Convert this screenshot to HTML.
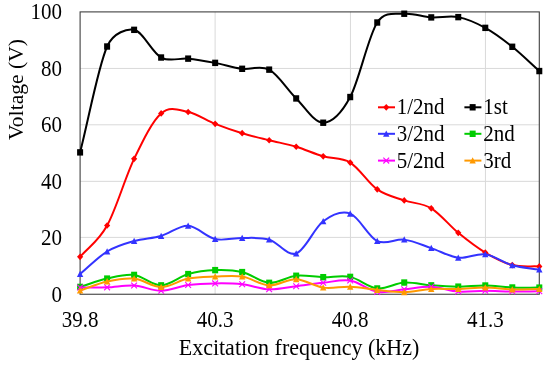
<!DOCTYPE html>
<html><head><meta charset="utf-8"><title>chart</title>
<style>html,body{margin:0;padding:0;background:#fff}svg{display:block}text{font-family:"Liberation Serif","Times New Roman",serif;fill:#000}</style></head><body>
<svg width="550" height="368" viewBox="0 0 550 368">
<rect width="550" height="368" fill="#fff"/>
<g stroke="#d9d9d9" stroke-width="1"><line x1="80.10" x2="539.30" y1="68.45" y2="68.45"/><line x1="80.10" x2="539.30" y1="124.80" y2="124.80"/><line x1="80.10" x2="539.30" y1="181.35" y2="181.35"/><line x1="80.10" x2="539.30" y1="237.40" y2="237.40"/><line x1="215.10" x2="215.10" y1="11.90" y2="294.25"/><line x1="350.45" x2="350.45" y1="11.90" y2="294.25"/><line x1="485.45" x2="485.45" y1="11.90" y2="294.25"/></g>
<rect x="80.10" y="11.90" width="459.20" height="282.35" fill="none" stroke="#404040" stroke-width="1.1"/>
<path d="M80.10 256.85 C89.10 246.40 98.11 241.84 107.11 225.51 C116.12 209.18 125.12 177.55 134.12 158.87 C143.13 140.19 152.13 121.23 161.14 113.41 C170.14 105.60 179.14 110.26 188.15 112.00 C197.15 113.74 206.15 120.33 215.16 123.86 C224.16 127.39 233.17 130.45 242.17 133.18 C251.17 135.91 260.18 137.98 269.18 140.24 C278.19 142.50 287.19 144.05 296.19 146.73 C305.20 149.41 314.20 153.70 323.21 156.33 C332.21 158.97 341.21 157.04 350.22 162.54 C359.22 168.05 368.23 183.06 377.23 189.37 C386.23 195.67 395.24 197.22 404.24 200.38 C413.25 203.53 422.25 202.87 431.25 208.28 C440.26 213.69 449.26 225.46 458.26 232.85 C467.27 240.24 476.27 247.25 485.28 252.61 C494.28 257.98 503.28 262.73 512.29 265.04 C521.29 267.34 530.30 265.98 539.30 266.45" fill="none" stroke="#ff0000" stroke-width="2.0" stroke-linejoin="round" stroke-linecap="round"/>
<g><path d="M80.10 253.50 L83.20 256.85 L80.10 260.20 L77.00 256.85Z" fill="#ff0000"/><path d="M107.11 222.16 L110.21 225.51 L107.11 228.86 L104.01 225.51Z" fill="#ff0000"/><path d="M134.12 155.52 L137.22 158.87 L134.12 162.22 L131.02 158.87Z" fill="#ff0000"/><path d="M161.14 110.06 L164.24 113.41 L161.14 116.76 L158.04 113.41Z" fill="#ff0000"/><path d="M188.15 108.65 L191.25 112.00 L188.15 115.35 L185.05 112.00Z" fill="#ff0000"/><path d="M215.16 120.51 L218.26 123.86 L215.16 127.21 L212.06 123.86Z" fill="#ff0000"/><path d="M242.17 129.83 L245.27 133.18 L242.17 136.53 L239.07 133.18Z" fill="#ff0000"/><path d="M269.18 136.89 L272.28 140.24 L269.18 143.59 L266.08 140.24Z" fill="#ff0000"/><path d="M296.19 143.38 L299.29 146.73 L296.19 150.08 L293.09 146.73Z" fill="#ff0000"/><path d="M323.21 152.98 L326.31 156.33 L323.21 159.68 L320.11 156.33Z" fill="#ff0000"/><path d="M350.22 159.19 L353.32 162.54 L350.22 165.89 L347.12 162.54Z" fill="#ff0000"/><path d="M377.23 186.02 L380.33 189.37 L377.23 192.72 L374.13 189.37Z" fill="#ff0000"/><path d="M404.24 197.03 L407.34 200.38 L404.24 203.73 L401.14 200.38Z" fill="#ff0000"/><path d="M431.25 204.93 L434.35 208.28 L431.25 211.63 L428.15 208.28Z" fill="#ff0000"/><path d="M458.26 229.50 L461.36 232.85 L458.26 236.20 L455.16 232.85Z" fill="#ff0000"/><path d="M485.28 249.26 L488.38 252.61 L485.28 255.96 L482.18 252.61Z" fill="#ff0000"/><path d="M512.29 261.69 L515.39 265.04 L512.29 268.39 L509.19 265.04Z" fill="#ff0000"/><path d="M539.30 263.10 L542.40 266.45 L539.30 269.80 L536.20 266.45Z" fill="#ff0000"/></g>
<path d="M80.10 152.38 C89.10 117.08 98.11 66.92 107.11 46.50 C113.51 31.98 127.72 28.53 134.12 29.84 C143.13 31.67 152.13 52.71 161.14 57.51 C170.14 62.31 179.14 57.74 188.15 58.64 C197.15 59.53 206.15 61.18 215.16 62.87 C224.16 64.57 233.17 67.67 242.17 68.80 C251.17 69.93 260.18 64.71 269.18 69.65 C278.19 74.59 287.19 89.60 296.19 98.45 C305.20 107.30 314.20 122.97 323.21 122.73 C332.05 122.50 341.37 113.45 350.22 97.04 C359.22 80.33 368.23 36.38 377.23 22.50 C384.95 10.59 396.52 14.47 404.24 13.74 C413.25 12.90 422.25 16.85 431.25 17.41 C440.26 17.98 449.26 15.39 458.26 17.13 C467.27 18.87 476.27 22.92 485.28 27.86 C494.28 32.80 503.28 39.58 512.29 46.78 C521.29 53.98 530.30 62.97 539.30 71.06" fill="none" stroke="#000000" stroke-width="2.0" stroke-linejoin="round" stroke-linecap="round"/>
<g><rect x="77.10" y="149.18" width="6.00" height="6.40" fill="#000000"/><rect x="104.11" y="43.30" width="6.00" height="6.40" fill="#000000"/><rect x="131.12" y="26.64" width="6.00" height="6.40" fill="#000000"/><rect x="158.14" y="54.31" width="6.00" height="6.40" fill="#000000"/><rect x="185.15" y="55.44" width="6.00" height="6.40" fill="#000000"/><rect x="212.16" y="59.67" width="6.00" height="6.40" fill="#000000"/><rect x="239.17" y="65.60" width="6.00" height="6.40" fill="#000000"/><rect x="266.18" y="66.45" width="6.00" height="6.40" fill="#000000"/><rect x="293.19" y="95.25" width="6.00" height="6.40" fill="#000000"/><rect x="320.21" y="119.53" width="6.00" height="6.40" fill="#000000"/><rect x="347.22" y="93.84" width="6.00" height="6.40" fill="#000000"/><rect x="374.23" y="19.30" width="6.00" height="6.40" fill="#000000"/><rect x="401.24" y="10.54" width="6.00" height="6.40" fill="#000000"/><rect x="428.25" y="14.21" width="6.00" height="6.40" fill="#000000"/><rect x="455.26" y="13.93" width="6.00" height="6.40" fill="#000000"/><rect x="482.28" y="24.66" width="6.00" height="6.40" fill="#000000"/><rect x="509.29" y="43.58" width="6.00" height="6.40" fill="#000000"/><rect x="536.30" y="67.86" width="6.00" height="6.40" fill="#000000"/></g>
<path d="M80.10 274.07 C89.10 266.54 98.11 256.99 107.11 251.48 C116.12 245.98 125.12 243.62 134.12 241.04 C143.13 238.45 152.13 238.49 161.14 235.95 C170.14 233.41 179.14 225.27 188.15 225.79 C197.15 226.31 206.15 237.04 215.16 239.06 C224.16 241.08 233.17 237.84 242.17 237.93 C251.17 238.02 260.18 237.04 269.18 239.62 C278.19 242.21 287.19 256.52 296.19 253.46 C305.20 250.40 314.20 227.91 323.21 221.27 C332.21 214.64 341.21 210.35 350.22 213.65 C359.22 216.94 368.23 236.71 377.23 241.04 C386.23 245.37 395.24 238.45 404.24 239.62 C413.25 240.80 422.25 245.08 431.25 248.09 C440.26 251.11 449.26 256.66 458.26 257.69 C467.27 258.73 476.27 253.04 485.28 254.31 C494.28 255.58 503.28 262.78 512.29 265.32 C521.29 267.86 530.30 268.14 539.30 269.55" fill="none" stroke="#3333ff" stroke-width="2.0" stroke-linejoin="round" stroke-linecap="round"/>
<g><path d="M80.10 270.77 L83.30 277.07 L76.90 277.07Z" fill="#3333ff"/><path d="M107.11 248.18 L110.31 254.48 L103.91 254.48Z" fill="#3333ff"/><path d="M134.12 237.74 L137.32 244.04 L130.92 244.04Z" fill="#3333ff"/><path d="M161.14 232.65 L164.34 238.95 L157.94 238.95Z" fill="#3333ff"/><path d="M188.15 222.49 L191.35 228.79 L184.95 228.79Z" fill="#3333ff"/><path d="M215.16 235.76 L218.36 242.06 L211.96 242.06Z" fill="#3333ff"/><path d="M242.17 234.63 L245.37 240.93 L238.97 240.93Z" fill="#3333ff"/><path d="M269.18 236.32 L272.38 242.62 L265.98 242.62Z" fill="#3333ff"/><path d="M296.19 250.16 L299.39 256.46 L292.99 256.46Z" fill="#3333ff"/><path d="M323.21 217.97 L326.41 224.27 L320.01 224.27Z" fill="#3333ff"/><path d="M350.22 210.35 L353.42 216.65 L347.02 216.65Z" fill="#3333ff"/><path d="M377.23 237.74 L380.43 244.04 L374.03 244.04Z" fill="#3333ff"/><path d="M404.24 236.32 L407.44 242.62 L401.04 242.62Z" fill="#3333ff"/><path d="M431.25 244.79 L434.45 251.09 L428.05 251.09Z" fill="#3333ff"/><path d="M458.26 254.39 L461.46 260.69 L455.06 260.69Z" fill="#3333ff"/><path d="M485.28 251.01 L488.48 257.31 L482.08 257.31Z" fill="#3333ff"/><path d="M512.29 262.02 L515.49 268.32 L509.09 268.32Z" fill="#3333ff"/><path d="M539.30 266.25 L542.50 272.55 L536.10 272.55Z" fill="#3333ff"/></g>
<path d="M80.10 286.92 C89.10 284.14 98.11 280.59 107.11 278.59 C116.12 276.59 125.12 273.79 134.12 274.92 C143.13 276.05 152.13 285.51 161.14 285.36 C170.14 285.22 179.14 276.61 188.15 274.07 C197.15 271.53 206.15 270.45 215.16 270.12 C224.16 269.79 233.17 269.98 242.17 272.09 C251.17 274.21 260.18 282.21 269.18 282.82 C278.19 283.44 287.19 276.71 296.19 275.76 C305.20 274.82 314.20 276.99 323.21 277.18 C332.21 277.36 341.21 275.01 350.22 276.89 C359.22 278.78 368.23 287.53 377.23 288.47 C386.23 289.41 395.24 283.06 404.24 282.54 C413.25 282.02 422.25 284.68 431.25 285.36 C440.26 286.05 449.26 286.61 458.26 286.64 C467.27 286.66 476.27 285.36 485.28 285.51 C494.28 285.65 503.28 287.13 512.29 287.48 C521.29 287.84 530.30 287.58 539.30 287.62" fill="none" stroke="#00cc00" stroke-width="2.0" stroke-linejoin="round" stroke-linecap="round"/>
<g><rect x="77.10" y="283.72" width="6.00" height="6.40" fill="#00cc00"/><rect x="104.11" y="275.39" width="6.00" height="6.40" fill="#00cc00"/><rect x="131.12" y="271.72" width="6.00" height="6.40" fill="#00cc00"/><rect x="158.14" y="282.16" width="6.00" height="6.40" fill="#00cc00"/><rect x="185.15" y="270.87" width="6.00" height="6.40" fill="#00cc00"/><rect x="212.16" y="266.92" width="6.00" height="6.40" fill="#00cc00"/><rect x="239.17" y="268.89" width="6.00" height="6.40" fill="#00cc00"/><rect x="266.18" y="279.62" width="6.00" height="6.40" fill="#00cc00"/><rect x="293.19" y="272.56" width="6.00" height="6.40" fill="#00cc00"/><rect x="320.21" y="273.98" width="6.00" height="6.40" fill="#00cc00"/><rect x="347.22" y="273.69" width="6.00" height="6.40" fill="#00cc00"/><rect x="374.23" y="285.27" width="6.00" height="6.40" fill="#00cc00"/><rect x="401.24" y="279.34" width="6.00" height="6.40" fill="#00cc00"/><rect x="428.25" y="282.16" width="6.00" height="6.40" fill="#00cc00"/><rect x="455.26" y="283.44" width="6.00" height="6.40" fill="#00cc00"/><rect x="482.28" y="282.31" width="6.00" height="6.40" fill="#00cc00"/><rect x="509.29" y="284.28" width="6.00" height="6.40" fill="#00cc00"/><rect x="536.30" y="284.42" width="6.00" height="6.40" fill="#00cc00"/></g>
<path d="M80.10 287.48 C89.10 287.44 98.11 287.67 107.11 287.34 C116.12 287.01 125.12 284.94 134.12 285.51 C143.13 286.07 152.13 290.80 161.14 290.73 C170.14 290.66 179.14 286.31 188.15 285.08 C197.15 283.86 206.15 283.53 215.16 283.39 C224.16 283.25 233.17 283.25 242.17 284.24 C251.17 285.22 260.18 288.99 269.18 289.32 C278.19 289.65 287.19 287.29 296.19 286.21 C305.20 285.13 314.20 283.76 323.21 282.82 C332.21 281.88 341.21 279.06 350.22 280.56 C359.22 282.07 368.23 290.40 377.23 291.86 C386.23 293.32 395.24 290.16 404.24 289.32 C413.25 288.47 422.25 286.40 431.25 286.78 C440.26 287.15 449.26 290.92 458.26 291.58 C467.27 292.24 476.27 290.73 485.28 290.73 C494.28 290.73 503.28 291.50 512.29 291.58 C521.29 291.66 530.30 291.33 539.30 291.21" fill="none" stroke="#ff00ff" stroke-width="2.0" stroke-linejoin="round" stroke-linecap="round"/>
<g><path d="M77.20 284.58 L83.00 290.38 M77.20 290.38 L83.00 284.58" stroke="#ff00ff" stroke-width="1.1" fill="none"/><path d="M104.21 284.44 L110.01 290.24 M104.21 290.24 L110.01 284.44" stroke="#ff00ff" stroke-width="1.1" fill="none"/><path d="M131.22 282.61 L137.02 288.41 M131.22 288.41 L137.02 282.61" stroke="#ff00ff" stroke-width="1.1" fill="none"/><path d="M158.24 287.83 L164.04 293.63 M158.24 293.63 L164.04 287.83" stroke="#ff00ff" stroke-width="1.1" fill="none"/><path d="M185.25 282.18 L191.05 287.98 M185.25 287.98 L191.05 282.18" stroke="#ff00ff" stroke-width="1.1" fill="none"/><path d="M212.26 280.49 L218.06 286.29 M212.26 286.29 L218.06 280.49" stroke="#ff00ff" stroke-width="1.1" fill="none"/><path d="M239.27 281.34 L245.07 287.14 M239.27 287.14 L245.07 281.34" stroke="#ff00ff" stroke-width="1.1" fill="none"/><path d="M266.28 286.42 L272.08 292.22 M266.28 292.22 L272.08 286.42" stroke="#ff00ff" stroke-width="1.1" fill="none"/><path d="M293.29 283.31 L299.09 289.11 M293.29 289.11 L299.09 283.31" stroke="#ff00ff" stroke-width="1.1" fill="none"/><path d="M320.31 279.92 L326.11 285.72 M320.31 285.72 L326.11 279.92" stroke="#ff00ff" stroke-width="1.1" fill="none"/><path d="M347.32 277.66 L353.12 283.46 M347.32 283.46 L353.12 277.66" stroke="#ff00ff" stroke-width="1.1" fill="none"/><path d="M374.33 288.96 L380.13 294.76 M374.33 294.76 L380.13 288.96" stroke="#ff00ff" stroke-width="1.1" fill="none"/><path d="M401.34 286.42 L407.14 292.22 M401.34 292.22 L407.14 286.42" stroke="#ff00ff" stroke-width="1.1" fill="none"/><path d="M428.35 283.88 L434.15 289.68 M428.35 289.68 L434.15 283.88" stroke="#ff00ff" stroke-width="1.1" fill="none"/><path d="M455.36 288.68 L461.16 294.48 M455.36 294.48 L461.16 288.68" stroke="#ff00ff" stroke-width="1.1" fill="none"/><path d="M482.38 287.83 L488.18 293.63 M482.38 293.63 L488.18 287.83" stroke="#ff00ff" stroke-width="1.1" fill="none"/><path d="M509.39 288.68 L515.19 294.48 M509.39 294.48 L515.19 288.68" stroke="#ff00ff" stroke-width="1.1" fill="none"/><path d="M536.40 288.31 L542.20 294.11 M536.40 294.11 L542.20 288.31" stroke="#ff00ff" stroke-width="1.1" fill="none"/></g>
<path d="M80.10 290.50 C89.10 287.47 98.11 283.40 107.11 281.41 C116.12 279.43 125.12 277.65 134.12 278.59 C143.13 279.53 152.13 287.06 161.14 287.06 C170.14 287.06 179.14 280.33 188.15 278.59 C197.15 276.85 206.15 276.94 215.16 276.61 C224.16 276.28 233.17 275.15 242.17 276.61 C251.17 278.07 260.18 284.94 269.18 285.36 C278.19 285.79 287.19 278.78 296.19 279.15 C305.20 279.53 314.20 286.35 323.21 287.62 C332.21 288.89 341.21 286.40 350.22 286.78 C359.22 287.15 368.23 288.99 377.23 289.88 C386.23 290.78 395.24 292.28 404.24 292.14 C413.25 292.00 422.25 289.55 431.25 289.04 C440.26 288.52 449.26 289.27 458.26 289.04 C467.27 288.80 476.27 287.55 485.28 287.62 C494.28 287.69 503.28 289.23 512.29 289.46 C521.29 289.69 530.30 289.16 539.30 289.01" fill="none" stroke="#ff9900" stroke-width="2.0" stroke-linejoin="round" stroke-linecap="round"/>
<g><path d="M80.10 287.20 L83.30 293.50 L76.90 293.50Z" fill="#ff9900"/><path d="M107.11 278.11 L110.31 284.41 L103.91 284.41Z" fill="#ff9900"/><path d="M134.12 275.29 L137.32 281.59 L130.92 281.59Z" fill="#ff9900"/><path d="M161.14 283.76 L164.34 290.06 L157.94 290.06Z" fill="#ff9900"/><path d="M188.15 275.29 L191.35 281.59 L184.95 281.59Z" fill="#ff9900"/><path d="M215.16 273.31 L218.36 279.61 L211.96 279.61Z" fill="#ff9900"/><path d="M242.17 273.31 L245.37 279.61 L238.97 279.61Z" fill="#ff9900"/><path d="M269.18 282.06 L272.38 288.36 L265.98 288.36Z" fill="#ff9900"/><path d="M296.19 275.85 L299.39 282.15 L292.99 282.15Z" fill="#ff9900"/><path d="M323.21 284.32 L326.41 290.62 L320.01 290.62Z" fill="#ff9900"/><path d="M350.22 283.48 L353.42 289.78 L347.02 289.78Z" fill="#ff9900"/><path d="M377.23 286.58 L380.43 292.88 L374.03 292.88Z" fill="#ff9900"/><path d="M404.24 288.84 L407.44 295.14 L401.04 295.14Z" fill="#ff9900"/><path d="M431.25 285.74 L434.45 292.04 L428.05 292.04Z" fill="#ff9900"/><path d="M458.26 285.74 L461.46 292.04 L455.06 292.04Z" fill="#ff9900"/><path d="M485.28 284.32 L488.48 290.62 L482.08 290.62Z" fill="#ff9900"/><path d="M512.29 286.16 L515.49 292.46 L509.09 292.46Z" fill="#ff9900"/><path d="M539.30 285.71 L542.50 292.01 L536.10 292.01Z" fill="#ff9900"/></g>
<text transform="translate(61.9,301.55) scale(1,1.095)" font-size="21" text-anchor="end">0</text>
<text transform="translate(61.9,245.08) scale(1,1.095)" font-size="21" text-anchor="end">20</text>
<text transform="translate(61.9,188.61) scale(1,1.095)" font-size="21" text-anchor="end">40</text>
<text transform="translate(61.9,132.14) scale(1,1.095)" font-size="21" text-anchor="end">60</text>
<text transform="translate(61.9,75.67) scale(1,1.095)" font-size="21" text-anchor="end">80</text>
<text transform="translate(61.9,19.20) scale(1,1.095)" font-size="21" text-anchor="end">100</text>
<text transform="translate(80.10,327.1) scale(1,1.07)" font-size="21" text-anchor="middle">39.8</text>
<text transform="translate(215.16,327.1) scale(1,1.07)" font-size="21" text-anchor="middle">40.3</text>
<text transform="translate(350.22,327.1) scale(1,1.07)" font-size="21" text-anchor="middle">40.8</text>
<text transform="translate(485.28,327.1) scale(1,1.07)" font-size="21" text-anchor="middle">41.3</text>
<text transform="translate(299,355.3) scale(1,1.05)" font-size="22" text-anchor="middle">Excitation frequency (kHz)</text>
<text transform="translate(22.8,89.5) rotate(-90)" font-size="21.6" text-anchor="middle">Voltage (V)</text>
<line x1="378.00" x2="395.00" y1="107.30" y2="107.30" stroke="#ff0000" stroke-width="2.0"/>
<path d="M386.25 103.95 L389.35 107.30 L386.25 110.65 L383.15 107.30Z" fill="#ff0000"/>
<text transform="translate(396.80,114.40) scale(1,1.07)" font-size="21">1/2nd</text>
<line x1="464.40" x2="481.40" y1="107.30" y2="107.30" stroke="#000000" stroke-width="2.0"/>
<rect x="469.65" y="104.10" width="6.00" height="6.40" fill="#000000"/>
<text transform="translate(483.30,114.40) scale(1,1.07)" font-size="21">1st</text>
<line x1="378.00" x2="395.00" y1="133.80" y2="133.80" stroke="#3333ff" stroke-width="2.0"/>
<path d="M386.25 130.50 L389.45 136.80 L383.05 136.80Z" fill="#3333ff"/>
<text transform="translate(396.80,140.90) scale(1,1.07)" font-size="21">3/2nd</text>
<line x1="464.40" x2="481.40" y1="133.80" y2="133.80" stroke="#00cc00" stroke-width="2.0"/>
<rect x="469.65" y="130.60" width="6.00" height="6.40" fill="#00cc00"/>
<text transform="translate(483.30,140.90) scale(1,1.07)" font-size="21">2nd</text>
<line x1="378.00" x2="395.00" y1="160.60" y2="160.60" stroke="#ff00ff" stroke-width="2.0"/>
<path d="M383.35 157.70 L389.15 163.50 M383.35 163.50 L389.15 157.70" stroke="#ff00ff" stroke-width="1.1" fill="none"/>
<text transform="translate(396.80,167.70) scale(1,1.07)" font-size="21">5/2nd</text>
<line x1="464.40" x2="481.40" y1="160.60" y2="160.60" stroke="#ff9900" stroke-width="2.0"/>
<path d="M472.65 157.30 L475.85 163.60 L469.45 163.60Z" fill="#ff9900"/>
<text transform="translate(483.30,167.70) scale(1,1.07)" font-size="21">3rd</text>
</svg></body></html>
